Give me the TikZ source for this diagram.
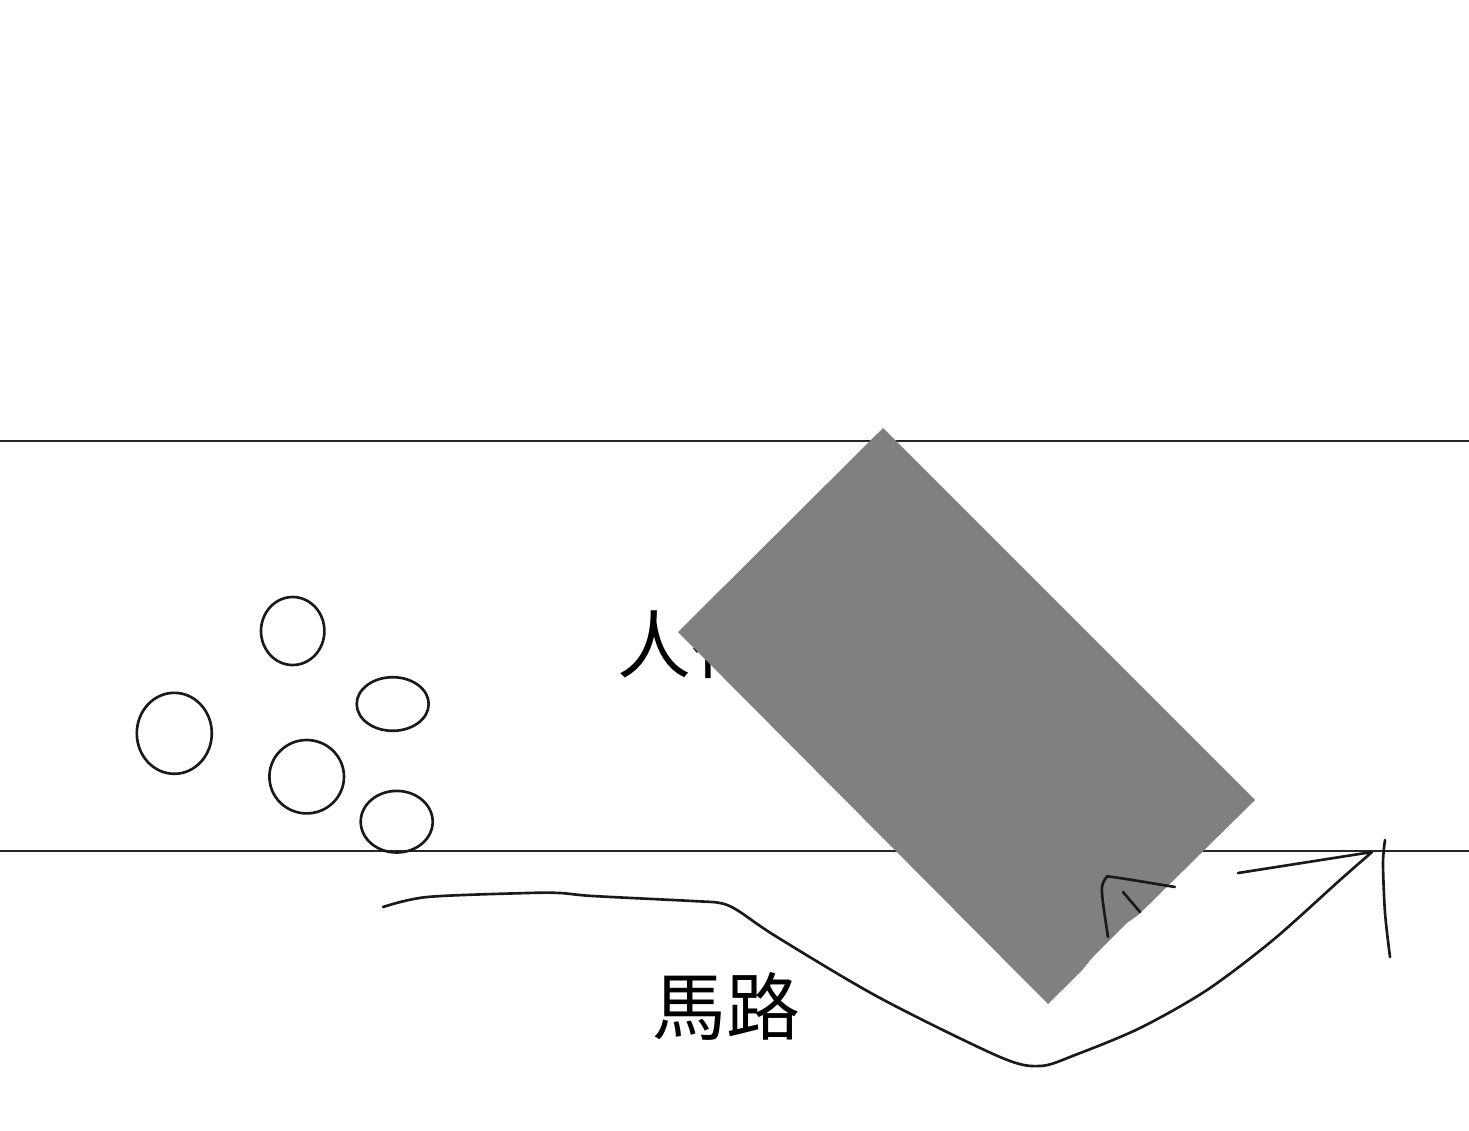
\documentclass[tikz,border=0pt]{standalone}
\usepackage{fontspec}
\newfontfamily\cjk{Noto Sans CJK TC}
\tikzset{
	pen/.style={line width=1.5pt,black!90,line cap=round,line join=round},
	label/.style={font=\cjk\fontsize{42}{50}\selectfont,inner sep=0pt}
}
\begin{document}
\begin{tikzpicture}[x=0.02cm,y=-0.02cm]
\useasboundingbox (0,0) rectangle (1469,1130);
% road edges
\foreach \y in {441,851} {
	\draw[line width=1.5pt,black!85] (0,\y) -- (1469,\y);
}
\node[label] (walk) at (728,645) {人行道};
\node[label] (road) at (726,1006) {馬路};
% people
\draw[pen] (292.7,631) ellipse [x radius=31.7,y radius=34];
\draw[pen] (174.3,733.3) ellipse [x radius=37.5,y radius=40.5];
\draw[pen] (392.7,704) ellipse [x radius=36,y radius=26.8];
\draw[pen] (306.7,776.7) ellipse [x radius=37.3,y radius=36.7];
\draw[pen] (396.7,821.7) ellipse [x radius=36,y radius=30.8];
% car
\fill[gray] (883,428) -- (1255,800) -- (1048,1004) -- (678,632) -- cycle;
\draw[pen] plot[smooth] coordinates {(1108,937) (1103,903) (1102,887) (1106,878) (1113,877) (1175,887)};
\draw[pen] (1123,892) -- (1140,912);
\fill[white] (1050,1003) -- (1080,973) -- (1093,957) -- (1107,943) -- (1127,923) -- (1150,907)
	-- (1167,897) -- (1183,880) -- (1200,870) -- (1262,870) -- (1262,1012) -- (1046,1012) -- cycle;
% path
\draw[pen] plot[smooth,tension=0.5] coordinates {(383,907) (427,897) (527,893) (560,893) (593,896)
	(693,901) (720,903) (737,910) (777,937) (880,998) (1000,1057) (1040,1066) (1075,1055)
	(1140,1028) (1207,990) (1273,940) (1340,880) (1372,852)} -- (1238,873);
\draw[pen] plot[smooth] coordinates {(1385,840) (1383,863) (1385,913) (1390,957)};
\end{tikzpicture}
\end{document}
